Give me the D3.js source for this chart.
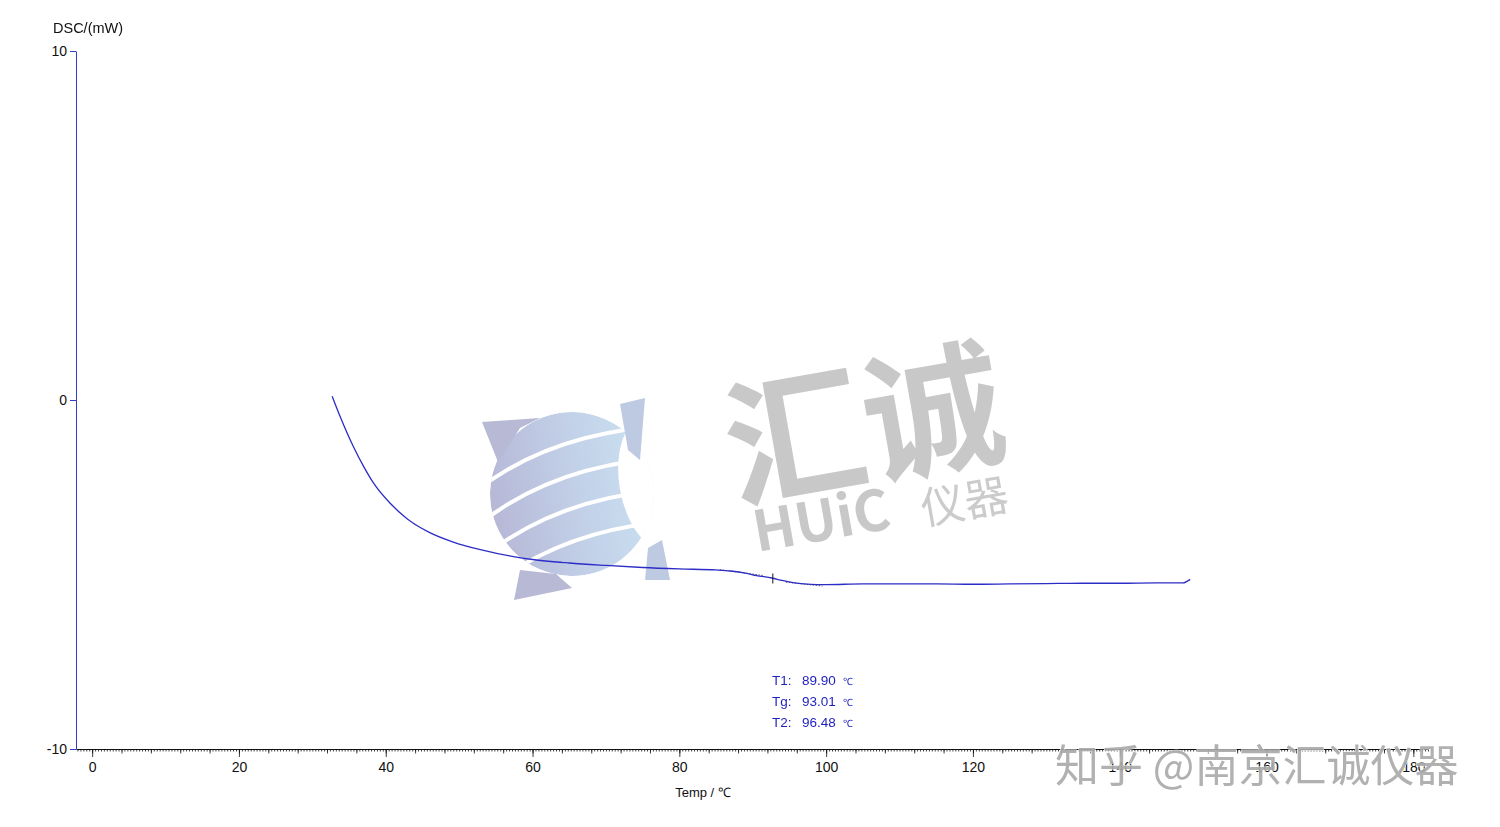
<!DOCTYPE html>
<html>
<head>
<meta charset="utf-8">
<script src="https://cdn.jsdelivr.net/npm/d3@7"></script>
<style>
  body { margin: 0; background: #fff; }
  svg { display: block; font-family: "Liberation Sans", Arial, sans-serif; }
</style>
</head>
<body>
<div id="chart"></div>
<script>
// DSC curve
const temps = [32.7, 33.8, 35.6, 37.0, 38.3, 40.6, 42.9, 46.0, 49.2, 52.9, 57.4, 60, 65, 70, 75, 80, 85, 87,
  89.2, 90.5, 92.6, 94, 95.5, 97, 98.8, 100, 105, 110, 115, 120, 125, 130, 135, 140, 145, 148.6, 149.6];
const dsc = [0.11, -0.48, -1.34, -1.91, -2.37, -2.96, -3.40, -3.80, -4.07, -4.29, -4.49, -4.57, -4.67, -4.74, -4.80, -4.84, -4.87, -4.90,
  -4.97, -5.03, -5.10, -5.17, -5.23, -5.27, -5.29, -5.29, -5.27, -5.27, -5.27, -5.28, -5.27, -5.26, -5.25, -5.25, -5.24, -5.24, -5.14];

// dotted tangent segments around the glass transition
const fitTemps = [[85.5, 91.5], [94.5, 99.5]];
const fitDsc = [[-4.86, -5.03], [-5.22, -5.33]];

const xTicks = [0, 20, 40, 60, 80, 100, 120, 140, 160, 180];
const yTicks = [-10, 0, 10];

const results = [
  { name: "T1", value: "89.90" },
  { name: "Tg", value: "93.01" },
  { name: "T2", value: "96.48" }
];
const tgValue = 93.01;

const width = 1500, height = 827;
const svg = d3.select("#chart").append("svg")
    .attr("width", width)
    .attr("height", height);

const x = d3.scaleLinear().domain([-2.2, 182]).range([76, 1428]);
const y = d3.scaleLinear().domain([-10, 10]).range([749, 51]);

const blue = "#3a3ac8";

// watermark logo in the middle (drawn under the curve)
const logo = svg.append("g").attr("class", "logo").attr("opacity", 0.9);
const defs = svg.append("defs");
const grad = defs.append("linearGradient").attr("id", "ballGrad")
    .attr("x1", "0%").attr("x2", "100%").attr("y1", "0%").attr("y2", "0%");
grad.append("stop").attr("offset", "0%").attr("stop-color", "#aeb0d2");
grad.append("stop").attr("offset", "55%").attr("stop-color", "#bccce6");
grad.append("stop").attr("offset", "100%").attr("stop-color", "#c4deef");
defs.append("clipPath").attr("id", "ballClip")
  .append("circle").attr("cx", 0).attr("cy", 0).attr("r", 82);

const ball = logo.append("g").attr("transform", "translate(572,494) rotate(-10)");
const ballInner = ball.append("g").attr("clip-path", "url(#ballClip)");
ballInner.append("circle").attr("r", 82).attr("fill", "url(#ballGrad)");
// white gaps between the bands
[-48, -16, 16, 48].forEach(function(dy) {
  ballInner.append("path")
      .attr("d", "M-90," + (dy + 26) + " Q-10," + (dy - 14) + " 90," + (dy - 4))
      .attr("fill", "none")
      .attr("stroke", "#fff")
      .attr("stroke-width", 4);
});
// crescent cut on the right side
ballInner.append("ellipse").attr("cx", 88).attr("cy", 4).attr("rx", 40).attr("ry", 70).attr("fill", "#fff");

logo.append("path").attr("d", "M482,422 L540,418 L520,428 L498,462 Z").attr("fill", "#b0b2d0");
logo.append("path").attr("d", "M514,600 L572,588 L556,574 L520,570 Z").attr("fill", "#b0b2d0");
logo.append("path").attr("d", "M620,404 L645,398 L640,460 L628,450 Z").attr("fill", "#b7c4de");
logo.append("path").attr("d", "M648,548 L662,540 L670,580 L645,580 Z").attr("fill", "#b7c4de");

logo.append("text")
    .attr("transform", "translate(735,500) rotate(-10)")
    .attr("font-family", "'Noto Sans CJK SC', sans-serif")
    .attr("font-weight", "bold")
    .attr("font-size", 140)
    .attr("fill", "#c2c2c2")
    .text("汇诚");
logo.append("text")
    .attr("transform", "translate(757,552) rotate(-10)")
    .attr("font-family", "'Noto Sans CJK SC', sans-serif")
    .attr("font-weight", "bold")
    .attr("font-size", 56)
    .attr("fill", "#c2c2c2")
    .text("HUiC");
logo.append("text")
    .attr("transform", "translate(924,525) rotate(-10)")
    .attr("font-family", "'Noto Sans CJK SC', sans-serif")
    .attr("font-size", 44)
    .attr("fill", "#c6c6c6")
    .text("仪器");

// x axis: minor (0.4), medium (4) and major (20) ticks
const minorTicks = d3.range(-5, 456).map(i => +(i * 0.4).toFixed(1));
const xAxisG = svg.append("g").attr("transform", "translate(0,749)");
xAxisG.append("g")
    .call(d3.axisBottom(x).tickValues(minorTicks).tickSize(2.5).tickFormat(""))
    .call(g => g.select(".domain").remove());
xAxisG.append("g")
    .call(d3.axisBottom(x).tickValues(d3.range(0, 181, 4)).tickSize(4.5).tickFormat(""))
    .call(g => g.select(".domain").remove());
xAxisG.append("g")
    .call(d3.axisBottom(x).tickValues(xTicks).tickSize(8).tickPadding(5).tickSizeOuter(0))
    .call(g => g.selectAll("text").attr("font-size", 14).attr("fill", "#111").attr("font-family", "'Liberation Sans', Arial, sans-serif"));
xAxisG.selectAll("line").attr("stroke", "#111").attr("stroke-width", 0.8);
xAxisG.selectAll(".domain").attr("stroke", "#111");

svg.append("text")
    .attr("x", 703).attr("y", 797)
    .attr("text-anchor", "middle")
    .attr("font-size", 13)
    .attr("fill", "#111")
    .text("Temp / ℃");

// y axis
const yAxisG = svg.append("g")
    .attr("transform", "translate(76,0)")
    .call(d3.axisLeft(y).tickValues(yTicks).tickSize(6).tickPadding(3).tickSizeOuter(0)
      .tickFormat(d => String(d)));
yAxisG.selectAll("line").attr("stroke", blue);
yAxisG.select(".domain").attr("stroke", blue);
yAxisG.selectAll("text")
    .attr("font-size", 14)
    .attr("fill", "#111")
    .attr("font-family", "'Liberation Sans', Arial, sans-serif");

svg.append("text")
    .attr("x", 53).attr("y", 33)
    .attr("font-size", 14.5)
    .attr("fill", "#111")
    .text("DSC/(mW)");

// tangent lines
fitTemps.forEach(function(ts, i) {
  svg.append("line")
      .attr("x1", x(ts[0])).attr("y1", y(fitDsc[i][0]))
      .attr("x2", x(ts[1])).attr("y2", y(fitDsc[i][1]))
      .attr("stroke", "#333")
      .attr("stroke-width", 0.8)
      .attr("stroke-dasharray", "1.5,1.5");
});

// DSC curve
const line = d3.line()
    .x((d, i) => x(temps[i]))
    .y(d => y(d))
    .curve(d3.curveMonotoneX);

svg.append("path")
    .datum(dsc)
    .attr("fill", "none")
    .attr("stroke", "#2c2cc6")
    .attr("stroke-width", 1.3)
    .attr("d", line);

// Tg marker
const tgY = y(d3.interpolateNumber(-5.03, -5.10)((tgValue - 90.5) / (92.6 - 90.5)));
svg.append("line")
    .attr("x1", x(tgValue) - 2).attr("x2", x(tgValue) - 2)
    .attr("y1", tgY - 5).attr("y2", tgY + 5)
    .attr("stroke", "#111").attr("stroke-width", 1);

// result labels
const res = svg.append("g").attr("fill", "#1e1ec0").attr("font-size", 13.5);
results.forEach(function(r, i) {
  const yy = 685 + i * 21;
  res.append("text").attr("x", 772).attr("y", yy).text(r.name + ":");
  res.append("text").attr("x", 802).attr("y", yy).text(r.value);
  res.append("text").attr("x", 843).attr("y", yy).attr("font-size", 10).text("℃");
});

// site watermark bottom right
svg.append("text")
    .attr("x", 1055).attr("y", 782)
    .attr("font-family", "'Noto Sans CJK SC', sans-serif")
    .attr("font-size", 44)
    .attr("fill", "#ababab")
    .attr("stroke", "#fff")
    .attr("stroke-width", 1)
    .attr("paint-order", "stroke")
    .attr("opacity", 0.92)
    .text("知乎 @南京汇诚仪器");
</script>
</body>
</html>
